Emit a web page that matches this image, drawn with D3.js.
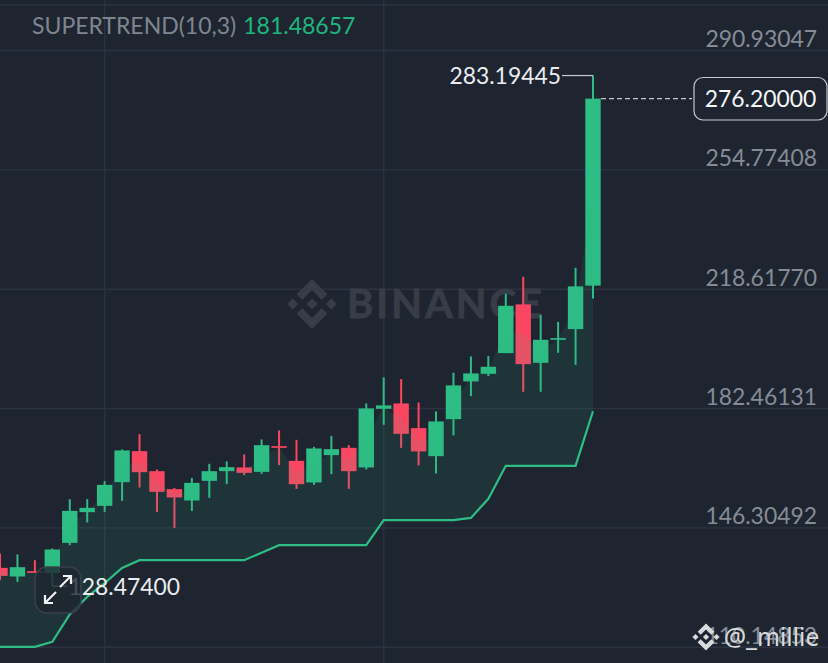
<!DOCTYPE html>
<html>
<head>
<meta charset="utf-8">
<script src="https://cdn.jsdelivr.net/npm/d3@7"></script>
<style>
    html, body { margin: 0; padding: 0; background: #1e2530; overflow: hidden; }
    svg { display: block; font-family: Lato, sans-serif; }
</style>
</head>
<body>
<svg id="chart" width="828" height="663"></svg>
<script>
// values, one entry per candle
const opens = [134.03, 131.42, 133.03, 132.51, 141.60, 150.91, 152.82, 160.00, 169.40, 163.33, 157.88, 154.45, 160.39, 163.33, 164.46, 163.12, 170.91, 166.46, 159.91, 168.18, 170.40, 164.46, 182.22, 183.85, 176.37, 167.88, 179.09, 190.52, 192.82, 199.10, 213.86, 196.16, 203.13, 206.37, 219.55];
const closes = [131.60, 134.24, 132.51, 139.60, 151.30, 152.21, 159.18, 169.61, 163.03, 157.06, 155.36, 159.79, 163.33, 164.55, 162.82, 171.21, 170.40, 159.39, 170.21, 170.00, 163.33, 182.34, 183.25, 174.64, 169.31, 178.40, 189.31, 192.94, 194.95, 213.43, 195.76, 203.13, 203.64, 219.31, 276.20];
const highs = [138.39, 138.09, 136.36, 139.91, 154.85, 154.85, 160.30, 169.91, 174.55, 163.85, 158.27, 161.30, 165.55, 166.27, 168.40, 172.94, 175.67, 172.82, 170.70, 174.03, 171.21, 183.85, 191.73, 191.22, 184.16, 181.43, 193.13, 198.10, 198.19, 217.07, 222.22, 210.70, 208.58, 224.95, 283.19445];
const lows = [130.30, 129.78, 132.51, 128.474, 140.91, 147.79, 151.00, 154.33, 158.39, 151.00, 146.15, 151.30, 155.24, 159.39, 162.12, 162.51, 165.15, 157.97, 159.18, 162.42, 157.97, 163.85, 177.37, 170.40, 165.06, 162.64, 174.15, 186.06, 192.13, 199.10, 187.37, 187.37, 199.19, 195.55, 215.67];
const superTrend = [110.09, 110.09, 110.09, 111.60, 119.91, 125.24, 129.39, 134.03, 136.36, 136.36, 136.36, 136.36, 136.36, 136.36, 136.36, 138.63, 140.91, 140.91, 140.91, 140.91, 140.91, 140.91, 148.48, 148.48, 148.48, 148.48, 148.48, 149.18, 154.94, 164.94, 164.94, 164.94, 164.94, 164.94, 181.49];

const priceTicks = [110.14853, 146.30492, 182.46131, 218.61770, 254.77408, 290.93047];
const timeTicks = [6, 22];

const lastPrice = 276.2;
const highPrice = 283.19445;
const lowPrice = 128.474;
const legendName = 'SUPERTREND(10,3)';
const legendValue = '181.48657';

const GREEN = '#2ebd85';
const RED = '#fb4661';
const LABEL_SIZE = 22.9;
const fmt = d3.format('.5f');

const svg = d3.select('#chart');

const x = d3.scaleLinear().domain([0, opens.length - 1]).range([0, 593]);
const y = d3.scaleLinear().domain([110.14853, 290.93047]).range([646.7, 50]);
const bodyWidth = 15.4;

// grid
const grid = svg.append('g').attr('stroke', '#2c3340').attr('stroke-width', 1.4);
grid.append('line').attr('x1', 0).attr('x2', 828).attr('y1', 5).attr('y2', 5);
grid.selectAll('.v').data(timeTicks).join('line')
    .attr('class', 'v')
    .attr('x1', d => x(d)).attr('x2', d => x(d))
    .attr('y1', 0).attr('y2', 663);

const axis = d3.axisLeft(y).tickValues(priceTicks).tickFormat(fmt).tickSize(-828).tickPadding(-817);
const axisG = svg.append('g').call(axis);
axisG.select('.domain').remove();
axisG.selectAll('.tick line').attr('stroke', '#2c3340').attr('stroke-width', 1.4);
axisG.selectAll('.tick text')
    .attr('fill', '#868c97')
    .attr('font-family', 'Lato, sans-serif')
    .attr('font-size', LABEL_SIZE)
    .attr('text-anchor', 'end')
    .attr('x', 817)
    .attr('dy', -3.5);

// logo shape, half width 63.3 units
const logoParts = [
    'M-24.6,-10.1 L0,-34.7 L24.6,-10.1 L38.9,-24.4 L0,-63.3 L-38.9,-24.4 Z',
    'M-24.6,10.1 L0,34.7 L24.6,10.1 L38.9,24.4 L0,63.3 L-38.9,24.4 Z',
    'M-63.3,0 L-49,-14.3 L-34.7,0 L-49,14.3 Z',
    'M63.3,0 L49,-14.3 L34.7,0 L49,14.3 Z',
    'M0,-14.5 L14.5,0 L0,14.5 L-14.5,0 Z'
];

// watermark
const logo = svg.append('g').attr('transform', 'translate(312,304) scale(0.395)').attr('fill', '#373c46');
logo.selectAll('path').data(logoParts).join('path').attr('d', d => d);
svg.append('text')
    .attr('x', 347).attr('y', 318)
    .attr('fill', '#373c46').attr('stroke', '#373c46').attr('stroke-width', 0.8)
    .attr('font-size', 40).attr('font-weight', 700)
    .attr('textLength', 195)
    .text('BINANCE');

// candles
const candles = d3.range(opens.length);
const colorOf = i => closes[i] >= opens[i] ? GREEN : RED;

svg.append('g').selectAll('line').data(candles).join('line')
    .attr('x1', i => x(i)).attr('x2', i => x(i))
    .attr('y1', i => y(highs[i])).attr('y2', i => y(lows[i]))
    .attr('stroke', colorOf)
    .attr('stroke-width', 2);

svg.append('g').selectAll('rect').data(candles).join('rect')
    .attr('x', i => x(i) - bodyWidth / 2)
    .attr('width', bodyWidth)
    .attr('y', i => y(Math.max(opens[i], closes[i])))
    .attr('height', i => Math.max(1.5, Math.abs(y(opens[i]) - y(closes[i]))))
    .attr('fill', colorOf);

// supertrend band, sits on top of the candles
const band = d3.area()
    .x(i => x(i))
    .y0(i => y(superTrend[i]))
    .y1(i => y((opens[i] + closes[i]) / 2));
svg.append('path').attr('d', band(candles)).attr('fill', GREEN).attr('fill-opacity', 0.1);

const trendLine = d3.line().x(i => x(i)).y(i => y(superTrend[i]));
svg.append('path').attr('d', trendLine(candles))
    .attr('fill', 'none').attr('stroke', GREEN).attr('stroke-width', 2.2);

// high marker
svg.append('line')
    .attr('x1', 562).attr('x2', x(34))
    .attr('y1', y(highPrice)).attr('y2', y(highPrice))
    .attr('stroke', '#c5c8cd').attr('stroke-width', 1.2);
svg.append('text')
    .attr('x', 561).attr('y', y(highPrice) + 8.5)
    .attr('text-anchor', 'end')
    .attr('fill', '#eaecef').attr('font-size', LABEL_SIZE)
    .text(fmt(highPrice));

// low marker, partly under the expand button
svg.append('line')
    .attr('x1', x(3)).attr('x2', 68)
    .attr('y1', y(lowPrice)).attr('y2', y(lowPrice))
    .attr('stroke', '#c5c8cd').attr('stroke-width', 1.2);
svg.append('text')
    .attr('x', 68.5).attr('y', y(lowPrice) + 8.5)
    .attr('fill', '#eaecef').attr('font-size', LABEL_SIZE)
    .text(fmt(lowPrice));

// last price
svg.append('line')
    .attr('x1', 601).attr('x2', 692)
    .attr('y1', y(lastPrice)).attr('y2', y(lastPrice))
    .attr('stroke', '#c5c8cd').attr('stroke-width', 1.2)
    .attr('stroke-dasharray', '5 3');
svg.append('rect')
    .attr('x', 694).attr('y', 77.5).attr('width', 133).attr('height', 42.5).attr('rx', 9)
    .attr('fill', '#1e2530').attr('stroke', '#c5c8cd').attr('stroke-width', 1.2);
svg.append('text')
    .attr('x', 760.5).attr('y', y(lastPrice) + 8.5)
    .attr('text-anchor', 'middle')
    .attr('fill', '#f5f6f7').attr('font-size', LABEL_SIZE)
    .text(fmt(lastPrice));

// legend
const legend = svg.append('text').attr('x', 32).attr('y', 34).attr('font-size', 23);
legend.append('tspan').attr('fill', '#7f858f').text(legendName);
legend.append('tspan').attr('dx', 7).attr('fill', '#1fb67e').text(legendValue);

// expand button
svg.append('rect')
    .attr('x', 35).attr('y', 567).attr('width', 46).attr('height', 46).attr('rx', 12)
    .attr('fill', '#1e2530').attr('fill-opacity', 0.8)
    .attr('stroke', '#3a3f4b').attr('stroke-width', 1.6);
const arrows = svg.append('g')
    .attr('fill', 'none').attr('stroke', '#f0f1f3').attr('stroke-width', 2.2);
arrows.append('path').attr('d', 'M60,587 L71,576 M63,576 L71,576 L71,584');
arrows.append('path').attr('d', 'M56,592 L45,603 M45,595 L45,603 L53,603');

// repost signature
const sig = svg.append('g').attr('transform', 'translate(706,637) scale(0.215)').attr('fill', '#d9dadc');
sig.selectAll('path').data(logoParts).join('path').attr('d', d => d);
svg.append('text')
    .attr('x', 724).attr('y', 646)
    .attr('fill', '#d9dadc')
    .attr('font-family', 'Noto Sans, sans-serif')
    .attr('font-size', 24.6)
    .text('@_millie');
</script>
</body>
</html>
